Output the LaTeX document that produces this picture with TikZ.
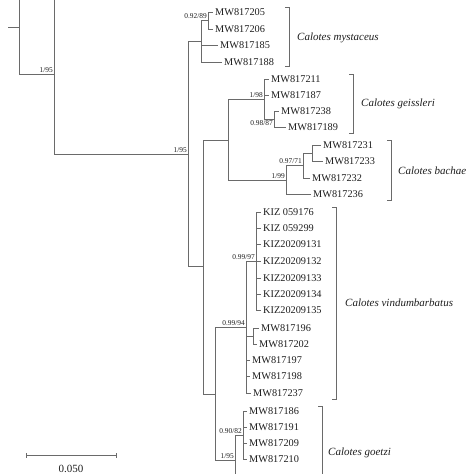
\documentclass[tikz,border=0pt]{standalone}
\usepackage{fontspec}
\setmainfont{Liberation Serif}
\usetikzlibrary{positioning}
\definecolor{branch}{HTML}{6A6A6A}
\definecolor{ink}{HTML}{1E1E1E}

\begin{document}
\begin{tikzpicture}[x=1pt,y=-1pt,
  tip/.style={anchor=west,inner xsep=2pt,inner ysep=0pt,text=ink,font=\fontsize{10.3}{12}\selectfont},
  supp/.style={anchor=south east,inner sep=1pt,text=ink,font=\fontsize{7.4}{8}\selectfont},
  supb/.style={supp,anchor=north east},
  clade/.style={anchor=west,inner sep=0pt,text=ink,font=\fontsize{11}{13}\selectfont\itshape},
  br/.style={draw=branch,line width=0.75pt}]
\useasboundingbox (0,0) rectangle (474,474);
\clip (0,0) rectangle (474,474);

% internal nodes
\coordinate (r0) at (19,27);
\coordinate (rootstub) at (8,27);
\coordinate (r0up) at (40,-20);
\coordinate (r1) at (54,74);
\coordinate (r1up) at (80,-6);
\coordinate (r2) at (188,154);
\coordinate (mys) at (201,41);
\coordinate (mys2) at (208,20);
\coordinate (ab) at (203,266);
\coordinate (gb) at (228,140);
\coordinate (gei) at (264,99);
\coordinate (gei2) at (274,119);
\coordinate (bac) at (286,180);
\coordinate (bac2) at (303,165);
\coordinate (bac3) at (312,153);
\coordinate (vg) at (215,394);
\coordinate (vin) at (246,327);
\coordinate (vin2) at (256,261);
\coordinate (vin3) at (253,336);
\coordinate (goe) at (235,460);
\coordinate (goe2) at (243,435);
\coordinate (goedown) at (250,490);

% tips
\node[tip] (t205) at (213,12) {MW817205};
\node[tip] (t206) at (213,29) {MW817206};
\node[tip] (t185) at (218,45) {MW817185};
\node[tip] (t188) at (222,62) {MW817188};
\node[tip] (t211) at (269,79) {MW817211};
\node[tip] (t187) at (269,95) {MW817187};
\node[tip] (t238) at (279,111) {MW817238};
\node[tip] (t189) at (286,127) {MW817189};
\node[tip] (t231) at (321,145) {MW817231};
\node[tip] (t233) at (323,161) {MW817233};
\node[tip] (t232) at (310,178) {MW817232};
\node[tip] (t236) at (311,194) {MW817236};
\node[tip] (k176) at (261,212) {KIZ 059176};
\node[tip] (k299) at (261,228) {KIZ 059299};
\node[tip] (k131) at (261,244) {KIZ20209131};
\node[tip] (k132) at (261,261) {KIZ20209132};
\node[tip] (k133) at (261,278) {KIZ20209133};
\node[tip] (k134) at (261,294) {KIZ20209134};
\node[tip] (k135) at (261,310) {KIZ20209135};
\node[tip] (t196) at (259,328) {MW817196};
\node[tip] (t202) at (257,344) {MW817202};
\node[tip] (t197) at (250,360) {MW817197};
\node[tip] (t198) at (250,376) {MW817198};
\node[tip] (t237) at (251,393) {MW817237};
\node[tip] (t186) at (247,411) {MW817186};
\node[tip] (t191) at (247,427) {MW817191};
\node[tip] (t209) at (247,443) {MW817209};
\node[tip] (t210) at (247,459) {MW817210};

% branches
\draw[br] (rootstub) -- (r0);
\draw[br] (r0) |- (r0up);
\draw[br] (r0) |- (r1);
\draw[br] (r1) |- (r1up);
\draw[br] (r1) |- (r2);
\draw[br] (r2) |- (mys);
\draw[br] (r2) |- (ab);
\draw[br] (mys) |- (mys2);
\draw[br] (mys2) |- (t205.west);
\draw[br] (mys2) |- (t206.west);
\draw[br] (mys) |- (t185.west);
\draw[br] (mys) |- (t188.west);
\draw[br] (ab) |- (gb);
\draw[br] (ab) |- (vg);
\draw[br] (gb) |- (gei);
\draw[br] (gb) |- (bac);
\draw[br] (gei) |- (t211.west);
\draw[br] (gei) |- (t187.west);
\draw[br] (gei) |- (gei2);
\draw[br] (gei2) |- (t238.west);
\draw[br] (gei2) |- (t189.west);
\draw[br] (bac) |- (bac2);
\draw[br] (bac) |- (t236.west);
\draw[br] (bac2) |- (bac3);
\draw[br] (bac2) |- (t232.west);
\draw[br] (bac3) |- (t231.west);
\draw[br] (bac3) |- (t233.west);
\draw[br] (vg) |- (vin);
\draw[br] (vg) |- (goe);
\draw[br] (vin) |- (vin2);
\draw[br] (vin2) |- (k176.west);
\draw[br] (vin2) |- (k299.west);
\draw[br] (vin2) |- (k131.west);
\draw[br] (vin2) |- (k132.west);
\draw[br] (vin2) |- (k133.west);
\draw[br] (vin2) |- (k134.west);
\draw[br] (vin2) |- (k135.west);
\draw[br] (vin) |- (vin3);
\draw[br] (vin3) |- (t196.west);
\draw[br] (vin3) |- (t202.west);
\draw[br] (vin) |- (t197.west);
\draw[br] (vin) |- (t198.west);
\draw[br] (vin) |- (t237.west);
\draw[br] (goe) |- (goe2);
\draw[br] (goe) |- (goedown);
\draw[br] (goe2) |- (t186.west);
\draw[br] (goe2) |- (t191.west);
\draw[br] (goe2) |- (t209.west);
\draw[br] (goe2) |- (t210.west);

% support values
\node[supp] at (r1) {1/95};
\node[supp] at (r2) {1/95};
\node[supp] at (mys2) {0.92/89};
\node[supp] at (gei) {1/98};
\node[supb] at (gei2) {0.98/87};
\node[supp] at (bac) {1/99};
\node[supp] at (bac2) {0.97/71};
\node[supp] at (vin2) {0.99/97};
\node[supp] at (vin) {0.99/94};
\node[supp] at (goe2) {0.90/82};
\node[supp] at (goe) {1/95};

% clade brackets
\draw[br] (285,7) -- (289,7) -- (289,66) -- (285,66);
\node[clade] (cmys) at (297,38) {Calotes mystaceus};
\draw[br] (349,74) -- (353,74) -- (353,133) -- (349,133);
\node[clade] (cgei) at (361,104) {Calotes geissleri};
\draw[br] (387,140) -- (391,140) -- (391,200) -- (387,200);
\node[clade] (cbac) at (398,171) {Calotes bachae};
\draw[br] (332,207) -- (336,207) -- (336,399) -- (332,399);
\node[clade] (cvin) at (345,303) {Calotes vindumbarbatus};
\draw[br] (318,406) -- (322,406) -- (322,490);
\node[clade] (cgoe) at (328,453) {Calotes goetzi};

% scale bar
\coordinate (sbl) at (26,455);
\coordinate (sbr) at (116,455);
\draw[br] (sbl) -- (sbr);
\draw[br] ([yshift=-2.5pt]sbl) -- ([yshift=2.5pt]sbl);
\draw[br] ([yshift=-2.5pt]sbr) -- ([yshift=2.5pt]sbr);
\node[anchor=base,inner sep=0pt,text=ink,font=\fontsize{11}{13}\selectfont] (sblab) at (71,472.5) {0.050};
\end{tikzpicture}
\end{document}
